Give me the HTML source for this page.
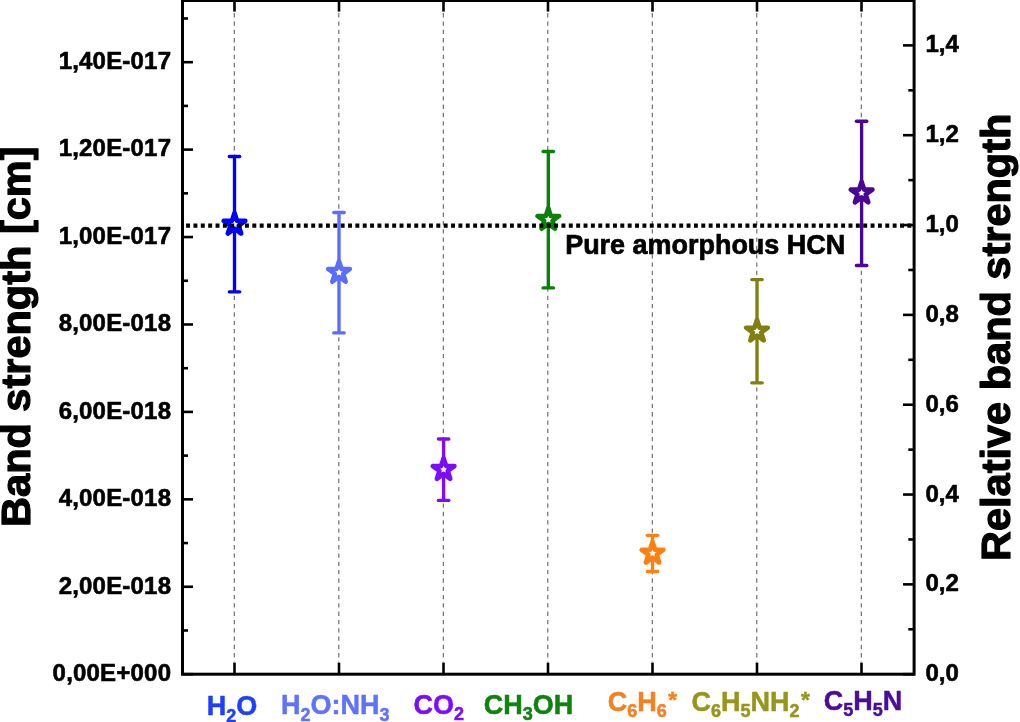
<!DOCTYPE html>
<html lang="en"><head><meta charset="utf-8">
<title>Band strength of HCN in ice mixtures</title>
<style>
html,body{margin:0;padding:0;background:#fff;}
body{width:1020px;height:722px;overflow:hidden;}
svg{display:block;}
text{font-family:"Liberation Sans", Arial, Helvetica, sans-serif;font-weight:bold;}
.tk{font-size:24px;fill:#000;stroke:#000;stroke-width:0.6px;}
.xl{font-size:27px;stroke-width:0.5px;stroke-linejoin:round;}
.sub{font-size:18px;}
.ttl{font-size:41.5px;fill:#000;stroke:#000;stroke-width:1.2px;stroke-linejoin:round;}
.ann{font-size:27px;fill:#000;stroke:#000;stroke-width:0.7px;}
</style></head><body>
<svg width="1020" height="722" viewBox="0 0 1020 722">
<rect x="0" y="0" width="1020" height="722" fill="#fff"/>
<g stroke="#646464" stroke-width="1.1" stroke-dasharray="4.35 3.962" fill="none">
<line x1="234.30" y1="13.1" x2="234.30" y2="662" />
<line x1="338.80" y1="13.1" x2="338.80" y2="662" />
<line x1="443.30" y1="13.1" x2="443.30" y2="662" />
<line x1="547.80" y1="13.1" x2="547.80" y2="662" />
<line x1="652.30" y1="13.1" x2="652.30" y2="662" />
<line x1="756.80" y1="13.1" x2="756.80" y2="662" />
<line x1="861.30" y1="13.1" x2="861.30" y2="662" />
</g>
<g stroke="#0000ff" fill="none" stroke-linecap="round">
<line x1="234.50" y1="156.50" x2="234.50" y2="291.80" stroke-width="3.35" stroke-linecap="butt"/>
<line x1="229.30" y1="156.50" x2="239.70" y2="156.50" stroke-width="3.35"/>
<line x1="229.30" y1="291.80" x2="239.70" y2="291.80" stroke-width="3.35"/>
<polygon points="234.50,212.90 237.06,220.78 245.34,220.78 238.64,225.65 241.20,233.52 234.50,228.65 227.80,233.52 230.36,225.65 223.66,220.78 231.94,220.78" fill="#fff" stroke-width="4.60" stroke-linejoin="round"/>
</g>
<g stroke="#7d0cff" fill="none" stroke-linecap="round">
<line x1="443.60" y1="439.00" x2="443.60" y2="500.40" stroke-width="3.35" stroke-linecap="butt"/>
<line x1="438.40" y1="439.00" x2="448.80" y2="439.00" stroke-width="3.35"/>
<line x1="438.40" y1="500.40" x2="448.80" y2="500.40" stroke-width="3.35"/>
<polygon points="443.60,458.20 446.16,466.08 454.44,466.08 447.74,470.95 450.30,478.82 443.60,473.95 436.90,478.82 439.46,470.95 432.76,466.08 441.04,466.08" fill="#fff" stroke-width="4.60" stroke-linejoin="round"/>
</g>
<g stroke="#0a820a" fill="none" stroke-linecap="round">
<line x1="548.30" y1="151.50" x2="548.30" y2="287.90" stroke-width="3.35" stroke-linecap="butt"/>
<line x1="543.10" y1="151.50" x2="553.50" y2="151.50" stroke-width="3.35"/>
<line x1="543.10" y1="287.90" x2="553.50" y2="287.90" stroke-width="3.35"/>
<polygon points="548.30,208.10 550.86,215.98 559.14,215.98 552.44,220.85 555.00,228.72 548.30,223.85 541.60,228.72 544.16,220.85 537.46,215.98 545.74,215.98" fill="#fff" stroke-width="4.60" stroke-linejoin="round"/>
</g>
<g stroke="#ff8010" fill="none" stroke-linecap="round">
<line x1="652.50" y1="535.30" x2="652.50" y2="571.50" stroke-width="3.35" stroke-linecap="butt"/>
<line x1="647.30" y1="535.30" x2="657.70" y2="535.30" stroke-width="3.35"/>
<line x1="647.30" y1="571.50" x2="657.70" y2="571.50" stroke-width="3.35"/>
<polygon points="652.50,541.90 655.06,549.78 663.34,549.78 656.64,554.65 659.20,562.52 652.50,557.65 645.80,562.52 648.36,554.65 641.66,549.78 649.94,549.78" fill="#fff" stroke-width="4.60" stroke-linejoin="round"/>
</g>
<g stroke="#808010" fill="none" stroke-linecap="round">
<line x1="757.00" y1="279.60" x2="757.00" y2="382.80" stroke-width="3.35" stroke-linecap="butt"/>
<line x1="751.80" y1="279.60" x2="762.20" y2="279.60" stroke-width="3.35"/>
<line x1="751.80" y1="382.80" x2="762.20" y2="382.80" stroke-width="3.35"/>
<polygon points="757.00,319.80 759.56,327.68 767.84,327.68 761.14,332.55 763.70,340.42 757.00,335.55 750.30,340.42 752.86,332.55 746.16,327.68 754.44,327.68" fill="#fff" stroke-width="4.60" stroke-linejoin="round"/>
</g>
<line x1="186.1" y1="225.7" x2="913" y2="225.7" stroke="#000" stroke-width="4.2" stroke-dasharray="3.95 3.41"/>
<g stroke="#5b6cff" fill="none" stroke-linecap="round">
<line x1="339.00" y1="212.50" x2="339.00" y2="332.90" stroke-width="3.35" stroke-linecap="butt"/>
<line x1="333.80" y1="212.50" x2="344.20" y2="212.50" stroke-width="3.35"/>
<line x1="333.80" y1="332.90" x2="344.20" y2="332.90" stroke-width="3.35"/>
<polygon points="339.00,261.10 341.56,268.98 349.84,268.98 343.14,273.85 345.70,281.72 339.00,276.85 332.30,281.72 334.86,273.85 328.16,268.98 336.44,268.98" fill="#fff" stroke-width="4.60" stroke-linejoin="round"/>
</g>
<g stroke="#4a0596" fill="none" stroke-linecap="round">
<line x1="861.60" y1="121.20" x2="861.60" y2="265.50" stroke-width="3.35" stroke-linecap="butt"/>
<line x1="856.40" y1="121.20" x2="866.80" y2="121.20" stroke-width="3.35"/>
<line x1="856.40" y1="265.50" x2="866.80" y2="265.50" stroke-width="3.35"/>
<polygon points="861.60,181.70 864.16,189.58 872.44,189.58 865.74,194.45 868.30,202.32 861.60,197.45 854.90,202.32 857.46,194.45 850.76,189.58 859.04,189.58" fill="#fff" stroke-width="4.60" stroke-linejoin="round"/>
</g>
<text class="ann" x="565.2" y="253.7" textLength="280" lengthAdjust="spacingAndGlyphs">Pure amorphous HCN</text>
<g stroke="#000" stroke-width="2.60" fill="none">
<line x1="182.50" y1="674.20" x2="193" y2="674.20"/>
<line x1="182.50" y1="630.49" x2="188" y2="630.49"/>
<line x1="182.50" y1="586.77" x2="193" y2="586.77"/>
<line x1="182.50" y1="543.05" x2="188" y2="543.05"/>
<line x1="182.50" y1="499.34" x2="193" y2="499.34"/>
<line x1="182.50" y1="455.62" x2="188" y2="455.62"/>
<line x1="182.50" y1="411.91" x2="193" y2="411.91"/>
<line x1="182.50" y1="368.20" x2="188" y2="368.20"/>
<line x1="182.50" y1="324.48" x2="193" y2="324.48"/>
<line x1="182.50" y1="280.76" x2="188" y2="280.76"/>
<line x1="182.50" y1="237.05" x2="193" y2="237.05"/>
<line x1="182.50" y1="193.34" x2="188" y2="193.34"/>
<line x1="182.50" y1="149.62" x2="193" y2="149.62"/>
<line x1="182.50" y1="105.91" x2="188" y2="105.91"/>
<line x1="182.50" y1="62.19" x2="193" y2="62.19"/>
<line x1="182.50" y1="18.48" x2="188" y2="18.48"/>
<line x1="903" y1="674.20" x2="914.10" y2="674.20"/>
<line x1="908.3" y1="629.29" x2="914.10" y2="629.29"/>
<line x1="903" y1="584.37" x2="914.10" y2="584.37"/>
<line x1="908.3" y1="539.46" x2="914.10" y2="539.46"/>
<line x1="903" y1="494.54" x2="914.10" y2="494.54"/>
<line x1="908.3" y1="449.63" x2="914.10" y2="449.63"/>
<line x1="903" y1="404.71" x2="914.10" y2="404.71"/>
<line x1="908.3" y1="359.80" x2="914.10" y2="359.80"/>
<line x1="903" y1="314.88" x2="914.10" y2="314.88"/>
<line x1="908.3" y1="269.97" x2="914.10" y2="269.97"/>
<line x1="903" y1="225.05" x2="914.10" y2="225.05"/>
<line x1="908.3" y1="180.14" x2="914.10" y2="180.14"/>
<line x1="903" y1="135.22" x2="914.10" y2="135.22"/>
<line x1="908.3" y1="90.31" x2="914.10" y2="90.31"/>
<line x1="903" y1="45.39" x2="914.10" y2="45.39"/>
<line x1="234.50" y1="0.50" x2="234.50" y2="11.6"/>
<line x1="234.50" y1="662.6" x2="234.50" y2="674.20"/>
<line x1="339.00" y1="0.50" x2="339.00" y2="11.6"/>
<line x1="339.00" y1="662.6" x2="339.00" y2="674.20"/>
<line x1="443.50" y1="0.50" x2="443.50" y2="11.6"/>
<line x1="443.50" y1="662.6" x2="443.50" y2="674.20"/>
<line x1="548.00" y1="0.50" x2="548.00" y2="11.6"/>
<line x1="548.00" y1="662.6" x2="548.00" y2="674.20"/>
<line x1="652.50" y1="0.50" x2="652.50" y2="11.6"/>
<line x1="652.50" y1="662.6" x2="652.50" y2="674.20"/>
<line x1="757.00" y1="0.50" x2="757.00" y2="11.6"/>
<line x1="757.00" y1="662.6" x2="757.00" y2="674.20"/>
<line x1="861.50" y1="0.50" x2="861.50" y2="11.6"/>
<line x1="861.50" y1="662.6" x2="861.50" y2="674.20"/>
</g>
<rect x="182.50" y="0.50" width="731.60" height="673.70" fill="none" stroke="#000" stroke-width="3.00"/>
<text class="tk" x="171.2" y="681.00" text-anchor="end" letter-spacing="0.2">0,00E+000</text>
<text class="tk" x="171.2" y="593.57" text-anchor="end" letter-spacing="0.2">2,00E-018</text>
<text class="tk" x="171.2" y="506.14" text-anchor="end" letter-spacing="0.2">4,00E-018</text>
<text class="tk" x="171.2" y="418.71" text-anchor="end" letter-spacing="0.2">6,00E-018</text>
<text class="tk" x="171.2" y="331.28" text-anchor="end" letter-spacing="0.2">8,00E-018</text>
<text class="tk" x="171.2" y="243.85" text-anchor="end" letter-spacing="0.2">1,00E-017</text>
<text class="tk" x="171.2" y="156.42" text-anchor="end" letter-spacing="0.2">1,20E-017</text>
<text class="tk" x="171.2" y="68.99" text-anchor="end" letter-spacing="0.2">1,40E-017</text>
<text class="tk" x="925.5" y="681.20">0,0</text>
<text class="tk" x="925.5" y="591.37">0,2</text>
<text class="tk" x="925.5" y="501.54">0,4</text>
<text class="tk" x="925.5" y="411.71">0,6</text>
<text class="tk" x="925.5" y="321.88">0,8</text>
<text class="tk" x="925.5" y="232.05">1,0</text>
<text class="tk" x="925.5" y="142.22">1,2</text>
<text class="tk" x="925.5" y="52.39">1,4</text>
<text class="xl" x="206.70" y="714.80" fill="#1f3fff" stroke="#1f3fff">H<tspan class="sub" dy="7.4">2</tspan><tspan dy="-7.4">O</tspan></text>
<text class="xl" x="280.90" y="713.90" fill="#5f72ff" stroke="#5f72ff">H<tspan class="sub" dy="7.3">2</tspan><tspan dy="-7.3">O:NH</tspan><tspan class="sub" dy="7.3">3</tspan></text>
<text class="xl" x="413.60" y="714.30" fill="#7d0cff" stroke="#7d0cff">CO<tspan class="sub" dy="5.8">2</tspan></text>
<text class="xl" x="483.70" y="713.90" fill="#0f820f" stroke="#0f820f">CH<tspan class="sub" dy="6.3">3</tspan><tspan dy="-6.3">OH</tspan></text>
<text class="xl" x="607.70" y="711.00" fill="#f58020" stroke="#f58020">C<tspan class="sub" dy="6.0">6</tspan><tspan dy="-6.0">H</tspan><tspan class="sub" dy="6.0">6</tspan><tspan font-size="22.7" dx="1.4" dy="-9.7">*</tspan></text>
<text class="xl" x="691.50" y="710.90" fill="#96961c" stroke="#96961c">C<tspan class="sub" dy="6.0">6</tspan><tspan dy="-6.0">H</tspan><tspan class="sub" dy="6.0">5</tspan><tspan dy="-6.0">NH</tspan><tspan class="sub" dy="6.0">2</tspan><tspan font-size="22.7" dx="1.4" dy="-9.7">*</tspan></text>
<text class="xl" x="823.80" y="709.80" fill="#4b0c96" stroke="#4b0c96">C<tspan class="sub" dy="6.5">5</tspan><tspan dy="-6.5">H</tspan><tspan class="sub" dy="6.5">5</tspan><tspan dy="-6.5">N</tspan></text>
<text class="ttl" text-anchor="middle" transform="translate(30.4 336.7) rotate(-90)">Band strength [cm]</text>
<text class="ttl" text-anchor="middle" transform="translate(1009.9 337.3) rotate(-90)">Relative band strength</text>
</svg>
</body></html>
